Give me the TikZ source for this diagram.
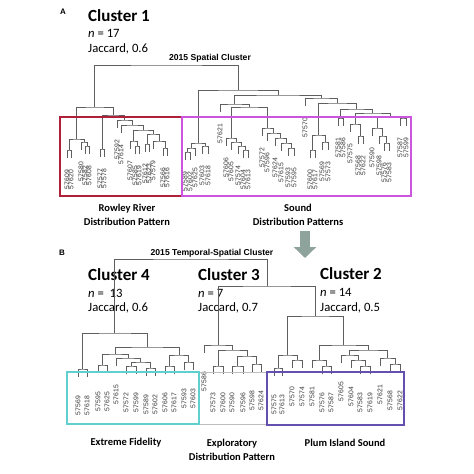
\documentclass[tikz,border=0pt]{standalone}
\usepackage{fontspec}
\setmainfont{Carlito}
\newfontfamily\calib{Carlito}
\newfontfamily\liber{Liberation Sans}
\usepackage{tikz}
\usetikzlibrary{
    arrows.meta,
    calc
}

\definecolor{treegray}{RGB}{95,95,95}
\definecolor{labgray}{RGB}{50,50,50}
\definecolor{arrowgray}{RGB}{143,163,157}
\definecolor{rowleyred}{RGB}{176,32,58}
\definecolor{soundpink}{RGB}{204,85,221}
\definecolor{fidcyan}{RGB}{95,207,207}
\definecolor{explgray}{RGB}{190,190,190}
\definecolor{plumblue}{RGB}{100,80,175}

% leaf: name, x, height of its parent link, label
\newcommand{\leafat}[4]{%
  \coordinate (#1) at (#2,#3+8);
  \node[leaflab] (#1t) at (#2,#3+8+\lgap) {#4};}
% link: name, left child, right child, height
\newcommand{\joinat}[4]{%
  \coordinate (#1c) at ($(#2)!0.5!(#3)$);
  \coordinate (#1) at (#1c |- 0,#4);
  \draw[treeline] (#2) |- (#1) -| (#3);}

\begin{document}
\begin{tikzpicture}[
    x=1pt, y=-1pt,
    clutitle/.style={anchor=west, inner sep=0pt, font=\calib\bfseries\fontsize{17}{18}\selectfont},
    cluinfo/.style={anchor=west, inner sep=0pt, font=\calib\fontsize{12.7}{14}\selectfont},
    patlab/.style={align=center, inner sep=0pt, font=\calib\bfseries\fontsize{10.5}{14}\selectfont},
    treetitle/.style={inner sep=0pt, font=\liber\bfseries\fontsize{8.6}{10}\selectfont},
    panel/.style={inner sep=0pt, font=\liber\bfseries\fontsize{8}{9}\selectfont},
    leaflab/.style={rotate=90, anchor=east, inner sep=0pt, text=labgray,
      font=\liber\fontsize{6.8}{7}\selectfont},
    treeline/.style={draw=treegray, line width=0.8pt},
    grpbox/.style={line width=1.6pt},
    bigarrow/.style={draw=arrowgray, line width=10pt, -{Triangle[length=11pt, width=22pt]}}
]
\useasboundingbox (0,0) rectangle (474,474);

\node[panel] (panA) at (63,12) {A};
\node[clutitle] (clu1t) at (88,16) {Cluster 1};
\node[cluinfo] (clu1n) at (88,33) {\textit{n} = 17};
\node[cluinfo] (clu1j) at (88,49) {Jaccard, 0.6};
\node[treetitle] (sptitle) at (210,58) {2015 Spatial Cluster};

\def\lgap{12}
\leafat{a57609}{67}{150}{57609}
\leafat{a57620}{71}{150}{57620}
\leafat{a57580}{81}{142}{57580}
\leafat{a57582}{85}{146}{57582}
\leafat{a57608}{89}{146}{57608}
\leafat{a57577}{100}{149}{57577}
\leafat{a57578}{104}{149}{57578}
\leafat{a57592}{117}{120}{57592}
\leafat{a57614}{121}{125}{57614}
\leafat{a57607}{130}{141}{57607}
\leafat{a57585}{135}{146}{57585}
\leafat{a57619}{139}{146}{57619}
\leafat{a57612}{145}{144}{57612}
\leafat{a57623}{149}{144}{57623}
\leafat{a57579}{153}{141}{57579}
\leafat{a57566}{163}{148}{57566}
\leafat{a57616}{167}{148}{57616}
\leafat{a57589}{185}{152}{57589}
\leafat{a57602}{190}{152}{57602}
\leafat{a57625}{195}{148}{57625}
\leafat{a57603}{202}{146}{57603}
\leafat{a57618}{208}{146}{57618}
\leafat{a57621}{220}{104}{57621}
\leafat{a57606}{226}{138}{57606}
\leafat{a57605}{231}{142}{57605}
\leafat{a57574}{238}{146}{57574}
\leafat{a57604}{243}{150}{57604}
\leafat{a57613}{248}{150}{57613}
\leafat{a57572}{262}{128}{57572}
\leafat{a57596}{267}{133}{57596}
\leafat{a57624}{275}{138}{57624}
\leafat{a57615}{281}{143}{57615}
\leafat{a57593}{288}{148}{57593}
\leafat{a57595}{294}{148}{57595}
\leafat{a57570}{305}{98}{57570}
\leafat{a57600}{310}{150}{57600}
\leafat{a57617}{315}{150}{57617}
\leafat{a57569}{322}{142}{57569}
\leafat{a57573}{328}{142}{57573}
\leafat{a57581}{338}{118}{57581}
\leafat{a57586}{343}{118}{57586}
\leafat{a57575}{350}{124}{57575}
\leafat{a57568}{358}{136}{57568}
\leafat{a57622}{363}{136}{57622}
\leafat{a57590}{372}{128}{57590}
\leafat{a57598}{379}{136}{57598}
\leafat{a57576}{384}{143}{57576}
\leafat{a57583}{389}{143}{57583}
\leafat{a57587}{400}{118}{57587}
\leafat{a57599}{406}{118}{57599}

\joinat{ra}{a57609}{a57620}{150}
\joinat{rb}{a57582}{a57608}{146}
\joinat{rc}{a57580}{rb}{142}
\joinat{rd}{ra}{rc}{139}
\joinat{re}{a57577}{a57578}{149}
\joinat{rg}{a57585}{a57619}{146}
\joinat{rh}{a57607}{rg}{141}
\joinat{ri}{a57612}{a57623}{144}
\joinat{rj}{a57566}{a57616}{148}
\joinat{rk}{a57579}{rj}{141}
\joinat{rl}{ri}{rk}{134}
\joinat{rm}{rh}{rl}{130}
\joinat{rn}{a57614}{rm}{125}
\joinat{ro}{a57592}{rn}{120}
\joinat{rp}{re}{ro}{115}
\joinat{rowroot}{rd}{rp}{107}
\joinat{q1}{a57589}{a57602}{152}
\joinat{q2}{q1}{a57625}{148}
\joinat{q3}{a57603}{a57618}{146}
\joinat{q4}{q2}{q3}{143}
\joinat{t1}{a57604}{a57613}{150}
\joinat{t2}{a57574}{t1}{146}
\joinat{t3}{a57605}{t2}{142}
\joinat{t4}{a57606}{t3}{138}
\joinat{u1}{a57593}{a57595}{148}
\joinat{u2}{a57615}{u1}{143}
\joinat{u3}{a57624}{u2}{138}
\joinat{u4}{a57596}{u3}{133}
\joinat{u5}{a57572}{u4}{128}
\joinat{sx}{t4}{u5}{107}
\joinat{sw}{a57621}{sx}{104}
\joinat{v1}{a57600}{a57617}{150}
\joinat{v2}{a57569}{a57573}{142}
\joinat{v3}{v1}{v2}{135}
\joinat{p1}{a57581}{a57586}{118}
\joinat{w1}{a57568}{a57622}{136}
\joinat{w2}{a57575}{w1}{124}
\joinat{x1}{a57576}{a57583}{143}
\joinat{x2}{a57598}{x1}{136}
\joinat{x3}{a57590}{x2}{128}
\joinat{p2}{a57587}{a57599}{118}
\joinat{st5}{x3}{p2}{116}
\joinat{st4}{w2}{st5}{113}
\joinat{st3}{p1}{st4}{109}
\joinat{st2}{v3}{st3}{103}
\joinat{st1}{a57570}{st2}{98}
\joinat{s2}{sw}{st1}{95}
\joinat{soundroot}{q4}{s2}{90}
\joinat{rootA}{rowroot}{soundroot}{65}

\draw[grpbox, rowleyred] (60,117) rectangle (182,196);
\draw[grpbox, soundpink] (182,117) rectangle (411,196);
\node[patlab] (rowleylab) at (127,215) {Rowley River\\Distribution Pattern};
\node[patlab] (soundlab) at (298,215) {Sound\\Distribution Patterns};

\coordinate (arrtop) at (305,231);
\coordinate (arrtip) at (305,258);
\draw[bigarrow] (arrtop) -- (arrtip);

\node[panel] (panB) at (62,253) {B};
\node[treetitle] (tstitle) at (212,253) {2015 Temporal-Spatial Cluster};
\node[clutitle] (clu4t) at (88,275) {Cluster 4};
\node[cluinfo] (clu4n) at (88,293) {\textit{n} = \ 13};
\node[cluinfo] (clu4j) at (88,308) {Jaccard, 0.6};
\node[clutitle] (clu3t) at (198,275) {Cluster 3};
\node[cluinfo] (clu3n) at (198,293) {\textit{n} = 7};
\node[cluinfo] (clu3j) at (198,308) {Jaccard, 0.7};
\node[clutitle] (clu2t) at (320,274) {Cluster 2};
\node[cluinfo] (clu2n) at (320,292) {\textit{n} = 14};
\node[cluinfo] (clu2j) at (320,308) {Jaccard, 0.5};

\def\lgap{19}
\leafat{b57569}{78}{369}{57569}
\leafat{b57618}{87}{369}{57618}
\leafat{b57595}{98}{365}{57595}
\leafat{b57625}{107}{365}{57625}
\leafat{b57615}{116}{358}{57615}
\leafat{b57572}{126}{366}{57572}
\leafat{b57599}{136}{366}{57599}
\leafat{b57589}{146}{368}{57589}
\leafat{b57602}{155}{368}{57602}
\leafat{b57606}{165}{366}{57606}
\leafat{b57617}{174}{366}{57617}
\leafat{b57593}{184}{362}{57593}
\leafat{b57603}{193}{362}{57603}
\leafat{b57586}{204}{345}{57586}
\leafat{b57573}{213}{366}{57573}
\leafat{b57600}{223}{366}{57600}
\leafat{b57590}{232}{366}{57590}
\leafat{b57596}{243}{366}{57596}
\leafat{b57598}{252}{364}{57598}
\leafat{b57624}{261}{364}{57624}
\leafat{b57575}{274}{368}{57575}
\leafat{b57613}{282}{368}{57613}
\leafat{b57570}{292}{360}{57570}
\leafat{b57574}{302}{360}{57574}
\leafat{b57581}{312}{360}{57581}
\leafat{b57576}{322}{366}{57576}
\leafat{b57587}{331}{366}{57587}
\leafat{b57605}{341}{355}{57605}
\leafat{b57604}{351}{360}{57604}
\leafat{b57583}{360}{366}{57583}
\leafat{b57619}{370}{366}{57619}
\leafat{b57621}{380}{358}{57621}
\leafat{b57568}{390}{364}{57568}
\leafat{b57622}{400}{364}{57622}

\joinat{c4a}{b57569}{b57618}{369}
\joinat{c4b}{b57595}{b57625}{365}
\joinat{c4c}{b57572}{b57599}{366}
\joinat{c4d}{b57589}{b57602}{368}
\joinat{c4e}{c4c}{c4d}{362}
\joinat{c4f}{b57615}{c4e}{358}
\joinat{c4g}{c4b}{c4f}{354}
\joinat{c4h}{b57606}{b57617}{366}
\joinat{c4i}{b57593}{b57603}{362}
\joinat{c4j}{c4h}{c4i}{355}
\joinat{c4k}{c4g}{c4j}{347}
\joinat{clu4}{c4a}{c4k}{333}
\joinat{c3a}{b57573}{b57600}{366}
\joinat{c3b}{b57590}{b57596}{366}
\joinat{c3c}{b57598}{b57624}{364}
\joinat{c3d}{c3b}{c3c}{356}
\joinat{c3e}{c3a}{c3d}{350}
\joinat{clu3}{b57586}{c3e}{345}
\joinat{c2a}{b57575}{b57613}{368}
\joinat{c2b}{b57570}{b57574}{360}
\joinat{c2c}{c2a}{c2b}{355}
\joinat{c2d}{b57576}{b57587}{366}
\joinat{c2e}{b57581}{c2d}{360}
\joinat{c2f}{b57583}{b57619}{366}
\joinat{c2g}{b57604}{c2f}{360}
\joinat{c2h}{b57605}{c2g}{355}
\joinat{c2i}{b57568}{b57622}{364}
\joinat{c2j}{b57621}{c2i}{358}
\joinat{c2k}{c2h}{c2j}{350}
\joinat{c2l}{c2e}{c2k}{345}
\joinat{clu2}{c2c}{c2l}{316}
\joinat{mid23}{clu3}{clu2}{286}
\joinat{rootB}{clu4}{mid23}{259}

\draw[grpbox, explgray, line width=1pt] (199,372) rectangle (267,424);
\draw[grpbox, fidcyan] (67,372) rectangle (199,424);
\draw[grpbox, plumblue] (267,372) rectangle (404,425);
\node[patlab] (fidlab) at (126,443) {Extreme Fidelity};
\node[patlab] (explab) at (232,450) {Exploratory\\Distribution Pattern};
\node[patlab] (plumlab) at (345,443) {Plum Island Sound};
\end{tikzpicture}
\end{document}
